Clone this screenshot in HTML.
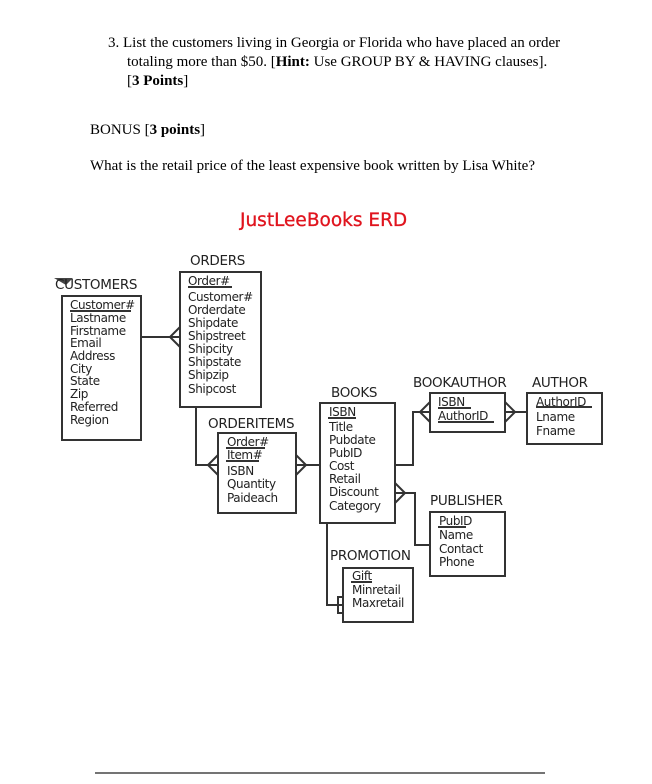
<!DOCTYPE html>
<html><head><meta charset="utf-8"><style>
html,body{margin:0;padding:0;background:#fff;width:652px;height:784px;overflow:hidden}
svg{display:block}
.s{font-family:"Liberation Serif",serif;font-size:15px;fill:#000}
.d{font-family:"DejaVu Sans","Liberation Sans",sans-serif;fill:#222}
.h{font-size:13.5px;letter-spacing:-0.3px}
.f{font-size:12px;letter-spacing:-0.4px}
</style></head><body>
<svg width="652" height="784" viewBox="0 0 652 784" xmlns="http://www.w3.org/2000/svg">
<text class="s" x="108" y="47">3.  List the customers living in Georgia or Florida who have placed an order</text>
<text class="s" x="127" y="66">totaling more than $50. [<tspan font-weight="bold">Hint:</tspan> Use GROUP BY &amp; HAVING clauses].</text>
<text class="s" x="127" y="85">[<tspan font-weight="bold">3 Points</tspan>]</text>
<text class="s" x="90" y="134">BONUS [<tspan font-weight="bold">3 points</tspan>]</text>
<text class="s" x="90" y="170">What is the retail price of the least expensive book written by Lisa White?</text>
<text x="240" y="226" font-family="DejaVu Sans,Liberation Sans,sans-serif" font-size="18.5" fill="#e0141e" stroke="#e0141e" stroke-width="0.3">JustLeeBooks ERD</text>

<g fill="none" stroke="#333" stroke-width="2">
<rect x="62" y="296" width="79" height="144"/>
<rect x="180" y="272" width="81" height="135"/>
<rect x="218" y="433" width="78" height="80"/>
<rect x="320" y="403" width="75" height="120"/>
<rect x="430" y="393" width="75" height="39"/>
<rect x="527" y="393" width="75" height="51"/>
<rect x="430" y="512" width="75" height="64"/>
<rect x="343" y="568" width="70" height="54"/>
<path d="M141 337H180M180 327L170 337L180 347"/>
<path d="M196 407V465H218M218 455L208 465L218 475"/>
<path d="M296 465H320M296 455L306 465L296 475"/>
<path d="M395 465H413V412H430M430 402L420 412L430 422"/>
<path d="M505 412H527M505 402L515 412L505 422"/>
<path d="M395 493H415V545H430M395 483L405 493L395 503"/>
<path d="M327 523V605H343M343 597H338V613H343"/>
<path d="M70 311H131M188 287H232M226 448H265M226 461H259M328 418H356M438 408H471M438 422H494M536 407H592M351 582H372M438 527H466"/>
</g>
<path d="M54 278L73 278L66 285Z" fill="#444"/>

<g class="d">
<text class="h" x="55" y="289">CUSTOMERS</text>
<text class="h" x="190" y="265">ORDERS</text>
<text class="h" x="208" y="428">ORDERITEMS</text>
<text class="h" x="331" y="397">BOOKS</text>
<text class="h" x="413" y="387">BOOKAUTHOR</text>
<text class="h" x="532" y="387">AUTHOR</text>
<text class="h" x="430" y="505">PUBLISHER</text>
<text class="h" x="330" y="560">PROMOTION</text>
</g>
<g class="d f">
<text x="70" y="309">Customer#</text>
<text x="70" y="322">Lastname</text>
<text x="70" y="335">Firstname</text>
<text x="70" y="347">Email</text>
<text x="70" y="360">Address</text>
<text x="70" y="373">City</text>
<text x="70" y="385">State</text>
<text x="70" y="398">Zip</text>
<text x="70" y="411">Referred</text>
<text x="70" y="424">Region</text>

<text x="188" y="285">Order#</text>
<text x="188" y="301">Customer#</text>
<text x="188" y="314">Orderdate</text>
<text x="188" y="327">Shipdate</text>
<text x="188" y="340">Shipstreet</text>
<text x="188" y="353">Shipcity</text>
<text x="188" y="366">Shipstate</text>
<text x="188" y="379">Shipzip</text>
<text x="188" y="393">Shipcost</text>

<text x="227" y="446">Order#</text>
<text x="227" y="459">Item#</text>
<text x="227" y="475">ISBN</text>
<text x="227" y="488">Quantity</text>
<text x="227" y="502">Paideach</text>

<text x="329" y="416">ISBN</text>
<text x="329" y="431">Title</text>
<text x="329" y="444">Pubdate</text>
<text x="329" y="457">PubID</text>
<text x="329" y="470">Cost</text>
<text x="329" y="483">Retail</text>
<text x="329" y="496">Discount</text>
<text x="329" y="510">Category</text>

<text x="438" y="406">ISBN</text>
<text x="438" y="420">AuthorID</text>
<text x="536" y="406">AuthorID</text>
<text x="536" y="421">Lname</text>
<text x="536" y="435">Fname</text>

<text x="439" y="525">PubID</text>
<text x="439" y="539">Name</text>
<text x="439" y="553">Contact</text>
<text x="439" y="566">Phone</text>

<text x="352" y="580">Gift</text>
<text x="352" y="594">Minretail</text>
<text x="352" y="607">Maxretail</text>
</g>
<line x1="95" y1="773" x2="545" y2="773" stroke="#222" stroke-width="1.2"/>
</svg>
</body></html>
